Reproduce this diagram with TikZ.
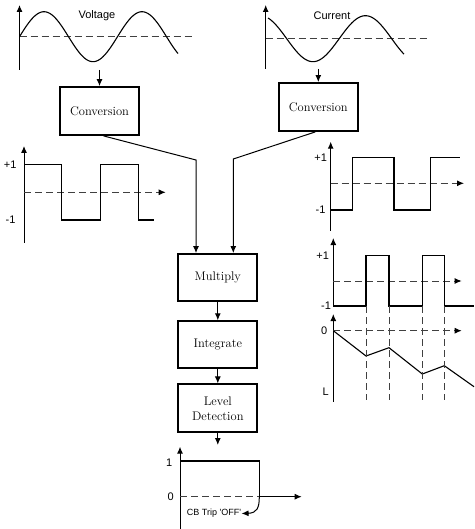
\documentclass[tikz,border=0pt]{standalone}
\usepackage{fontspec}
\newfontfamily\labelfont{Liberation Sans}
\usetikzlibrary{arrows.meta}

\begin{document}
\begin{tikzpicture}
	[x=1pt, y=-1pt, line width=1pt,
	>={Latex[length=7pt,width=6pt,color=black]},
	block/.style={draw,line width=1.8pt,minimum width=79pt,minimum height=47pt,align=center,font=\fontsize{12.5}{15}\selectfont},
	lbl/.style={font=\labelfont\fontsize{11}{12}\selectfont,inner sep=0pt},
	ref/.style={dash pattern=on 7pt off 4pt,black!75},
	wave/.style={line width=1.1pt}]
	\useasboundingbox (0,0) rectangle (474,529);
	% blocks
	\node (conv1) at (99.5,111) [block,minimum height=48pt] {Conversion};
	\node (conv2) at (318.3,107) [block,minimum height=48pt] {Conversion};
	\node (mult) at (217.8,277.5) [block] {Multiply};
	\node (integ) at (217.8,344.7) [block] {Integrate};
	\node (level) at (217.8,408.3) [block,minimum height=48pt] {Level\\Detection};
	% voltage and current
	\draw [->] (19.5,70) -- (19.5,5);
	\draw [ref] (19.5,36.7) -- (193,36.7);
	\draw [wave] plot[domain=19.5:178,samples=90,smooth] (\x,{36.7-25*sin((\x-19.5)/98*360)});
	\node (vlabel) at (97,16) [lbl] {Voltage};
	\draw [->] (265.7,69) -- (265.7,5);
	\draw [ref] (265.7,38.7) -- (430,38.7);
	\draw [wave] plot[domain=268:404,samples=90,smooth] (\x,{38.7+23*sin((\x-286.7)/105*360)});
	\node (ilabel) at (332,16) [lbl] {Current};
	\coordinate (vout) at (99.5,70);
	\coordinate (iout) at (318.3,69);
	\draw [->] (vout) -- (conv1.north);
	\draw [->] (iout) -- (conv2.north);
	% into multiply
	\coordinate (bend1) at (196,160);
	\coordinate (bend2) at (233.3,159);
	\draw [->] ([xshift=4pt]conv1.south) -- (bend1) -- (bend1 |- mult.north);
	\draw [->] ([xshift=-3pt]conv2.south) -- (bend2) -- (bend2 |- mult.north);
	\draw [->] (mult) -- (integ);
	\draw [->] (integ) -- (level);
	% square waves
	\draw [->] (24,242.7) -- (24,146);
	\draw [ref,->] (24,192.3) -- (165.7,192.3);
	\draw [wave] (24,164.3) -- (61.7,164.3) -- (61.7,220) -- (100.7,220) -- (100.7,164.3) -- (138.3,164.3) -- (138.3,220) -- (154,220);
	\node (vp) at (17,164.3) [lbl,anchor=east] {+1};
	\node (vm) at (16,220) [lbl,anchor=east] {-1};
	\draw [->] (330.7,230.7) -- (330.7,141.7);
	\draw [ref,->] (330.7,183.3) -- (464,183.3);
	\draw [wave] (330.7,210) -- (352.3,210) -- (352.3,157.3) -- (394,157.3) -- (394,210) -- (430.7,210) -- (430.7,157.3) -- (460,157.3);
	\node (ip) at (327.5,157.3) [lbl,anchor=east] {+1};
	\node (im) at (326,210) [lbl,anchor=east] {-1};
	% product and integral
	\draw [->] (333.3,306) -- (333.3,238);
	\draw [ref,->] (333.3,281) -- (461.7,281);
	\draw [wave] (333.3,306) -- (366,306) -- (366,255.7) -- (389,255.7) -- (389,306) -- (422.3,306) -- (422.3,255.7) -- (444.3,255.7) -- (444.3,306) -- (474,306);
	\node (pp) at (329.5,255.7) [lbl,anchor=east] {+1};
	\node (pm) at (331.5,305.5) [lbl,anchor=east] {-1};
	\draw [->] (333.3,401.7) -- (333.3,314);
	\draw [ref,->] (333.3,330.7) -- (461.7,330.7);
	\draw [wave] (333.3,330.7) -- (366,356) -- (389,347.7) -- (422.3,374) -- (444.3,365.7) -- (474,386.7);
	\foreach \t in {366,389,422.3,444.3}
		\draw [ref] (\t,306) -- (\t,400);
	\node (zero) at (324.3,331) [lbl] {0};
	\node (low) at (325.7,391.7) [lbl] {L};
	% trip output
	\coordinate (trip) at (217.8,445);
	\draw [->] (level.south) -- (trip);
	\draw [->] (180,529) -- (180,446.7);
	\draw [ref] (180,496.7) -- (259.3,496.7);
	\draw [wave] (180,461) -- (259.3,461) -- (259.3,496.7);
	\draw [->] (259.3,496.7) -- (301.7,496.7);
	\node (one) at (169.3,462.7) [lbl] {1};
	\node (nul) at (170.7,496.7) [lbl] {0};
	\node (cb) at (214,513.5) [lbl,font=\labelfont\fontsize{9}{10}\selectfont] {CB Trip 'OFF'};
	\draw [->] (259.3,496.7) .. controls (259.3,508) and (257,513) .. (cb.east);
\end{tikzpicture}
\end{document}
